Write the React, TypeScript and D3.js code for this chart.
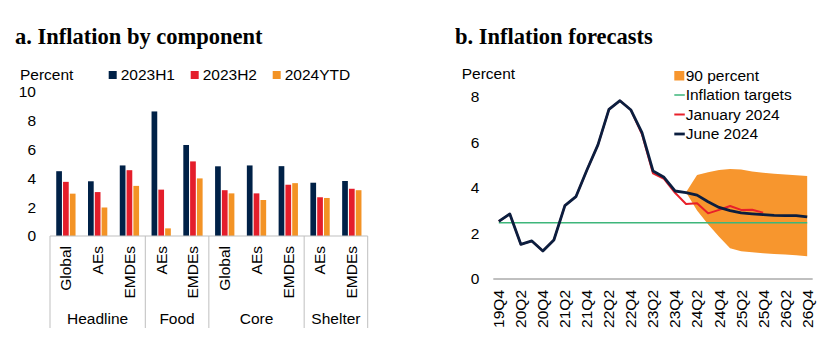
import React from "react";
import * as d3 from "d3";

const categories = ["Global", "AEs", "EMDEs", "AEs", "EMDEs", "Global", "AEs", "EMDEs", "AEs", "EMDEs"];
const groups = [
  { name: "Headline", count: 3 },
  { name: "Food", count: 2 },
  { name: "Core", count: 3 },
  { name: "Shelter", count: 2 },
];
const seriesNames = ["2023H1", "2023H2", "2024YTD"];
const h1 = [4.5, 3.8, 4.9, 8.65, 6.32, 4.84, 4.9, 4.85, 3.7, 3.82];
const h2 = [3.76, 3.05, 4.57, 3.22, 5.18, 3.18, 2.96, 3.56, 2.69, 3.28];
const ytd = [2.94, 1.98, 3.48, 0.53, 4.0, 2.96, 2.5, 3.67, 2.64, 3.18];
const barColors = ["#002147", "#E41E2B", "#F39325"];
const leftTicks = [0, 2, 4, 6, 8, 10];

const quarters = [
  "19Q4", "20Q1", "20Q2", "20Q3", "20Q4", "21Q1", "21Q2", "21Q3", "21Q4",
  "22Q1", "22Q2", "22Q3", "22Q4", "23Q1", "23Q2", "23Q3", "23Q4",
  "24Q1", "24Q2", "24Q3", "24Q4", "25Q1", "25Q2", "25Q3", "25Q4",
  "26Q1", "26Q2", "26Q3", "26Q4",
];
const june2024 = [2.53, 2.85, 1.52, 1.67, 1.23, 1.71, 3.22, 3.61, 4.78, 5.88, 7.44, 7.82, 7.41, 6.42, 4.74, 4.46, 3.86, 3.79, 3.68, 3.39, 3.14, 3.0, 2.9, 2.86, 2.82, 2.79, 2.78, 2.78, 2.72];
const january2024 = [2.53, 2.85, 1.52, 1.67, 1.23, 1.71, 3.22, 3.61, 4.78, 5.88, 7.44, 7.82, 7.41, 6.35, 4.63, 4.39, 3.78, 3.29, 3.32, 2.88, 3.03, 3.2, 3.03, 3.04, 2.91];
const bandStart = 17;
const bandUpper = [3.8, 4.56, 4.68, 4.78, 4.82, 4.8, 4.72, 4.66, 4.62, 4.58, 4.55, 4.52];
const bandLower = [3.8, 3.0, 2.4, 1.85, 1.35, 1.22, 1.17, 1.13, 1.1, 1.07, 1.04, 1.0];
const inflationTarget = 2.47;
const rightTicks = [0, 2, 4, 6, 8];
const legendRight = ["90 percent", "Inflation targets", "January 2024", "June 2024"];

const NAVY = "#0B1E3F";
const RED = "#E8202A";
const ORANGE = "#F7962E";
const GREEN = "#3DB67A";
const FONT = "Liberation Sans, Arial, sans-serif";
const FS = 15.5;

export default function App() {
  // Left panel scales
  const xL = d3.scaleBand<number>().domain(d3.range(categories.length)).range([50, 367.7]);
  const yL = d3.scaleLinear().domain([0, 10]).range([236, 92]);
  const barW = 5.7;
  const barStep = 6.8;
  const seriesVals = [h1, h2, ytd];

  const boundaries: number[] = [];
  let acc = 0;
  boundaries.push(xL(0)!);
  groups.forEach((g) => {
    acc += g.count;
    boundaries.push(acc < categories.length ? xL(acc)! : xL.range()[1]);
  });

  // Right panel scales
  const xR = d3.scaleBand<string>().domain(quarters).range([493.3, 812.7]);
  const cx = (i: number) => xR(quarters[i])! + xR.bandwidth() / 2;
  const yR = d3.scaleLinear().domain([0, 8]).range([279, 96.6]);

  const lineGen = d3
    .line<number>()
    .x((_, i) => cx(i))
    .y((d) => yR(d));
  const areaGen = d3
    .area<number>()
    .x((_, i) => cx(i + bandStart))
    .y0((_, i) => yR(bandLower[i]))
    .y1((d) => yR(d));

  return (
    <svg
      width={840}
      height={350}
      style={{ position: "absolute", left: 0, top: 0, background: "#fff" }}
      fontFamily={FONT}
    >
      <rect x={0} y={0} width={840} height={350} fill="#fff" />
      {/* Titles */}
      <text x={15} y={44} fontFamily="Liberation Serif, Times New Roman, serif" fontWeight="bold" fontSize={22.5} fill="#000">
        a. Inflation by component
      </text>
      <text x={455} y={44} fontFamily="Liberation Serif, Times New Roman, serif" fontWeight="bold" fontSize={22.5} fill="#000">
        b. Inflation forecasts
      </text>

      {/* Left panel */}
      <text x={20} y={74.5} dy="0.35em" fontSize={FS} fill="#000">Percent</text>
      {seriesNames.map((s, k) => {
        const lx = [108.7, 190.7, 272.7][k];
        return (
          <g key={s}>
            <rect x={lx} y={71} width={8} height={8} fill={barColors[k]} />
            <text x={lx + 12} y={74.5} dy="0.35em" fontSize={FS} fill="#000">{s}</text>
          </g>
        );
      })}
      {leftTicks.map((t) => (
        <text key={t} x={36} y={yL(t)} dy="0.35em" textAnchor="end" fontSize={FS} fill="#000">
          {t}
        </text>
      ))}
      {categories.map((c, i) => {
        const center = xL(i)! + xL.bandwidth() / 2;
        return (
          <g key={i}>
            {seriesVals.map((vals, k) => (
              <rect
                key={k}
                x={center + (k - 1) * barStep - barW / 2}
                y={yL(vals[i])}
                width={barW}
                height={yL(0) - yL(vals[i])}
                fill={barColors[k]}
              />
            ))}
            <text
              transform={`translate(${center},246) rotate(-90)`}
              dy="0.35em"
              textAnchor="end"
              fontSize={FS}
              fill="#000"
            >
              {c}
            </text>
          </g>
        );
      })}
      <line x1={xL.range()[0]} x2={xL.range()[1]} y1={yL(0)} y2={yL(0)} stroke="#BFBFBF" strokeWidth={1} />
      {boundaries.map((b, i) => (
        <line key={i} x1={b} x2={b} y1={yL(0)} y2={328} stroke="#BFBFBF" strokeWidth={1} />
      ))}
      {groups.map((g, i) => (
        <text
          key={g.name}
          x={(boundaries[i] + boundaries[i + 1]) / 2}
          y={319}
          dy="0.35em"
          textAnchor="middle"
          fontSize={FS}
          fill="#000"
        >
          {g.name}
        </text>
      ))}

      {/* Right panel */}
      <text x={461.7} y={74} dy="0.35em" fontSize={FS} fill="#000">Percent</text>
      {rightTicks.map((t) => (
        <text key={t} x={479.3} y={yR(t)} dy="0.35em" textAnchor="end" fontSize={FS} fill="#000">
          {t}
        </text>
      ))}
      <path d={areaGen(bandUpper)!} fill={ORANGE} stroke="none" />
      <line
        x1={cx(0)}
        x2={cx(quarters.length - 1)}
        y1={yR(inflationTarget)}
        y2={yR(inflationTarget)}
        stroke={GREEN}
        strokeWidth={1.5}
      />
      <path d={lineGen(january2024)!} fill="none" stroke={RED} strokeWidth={2} strokeLinejoin="round" />
      <path d={lineGen(june2024)!} fill="none" stroke={NAVY} strokeWidth={2.8} strokeLinejoin="round" />
      <line x1={xR.range()[0]} x2={xR.range()[1]} y1={yR(0)} y2={yR(0)} stroke="#808080" strokeWidth={1} />
      {quarters.map((q, i) =>
        i % 2 === 0 ? (
          <text
            key={q}
            transform={`translate(${cx(i)},290) rotate(-90)`}
            dy="0.35em"
            textAnchor="end"
            fontSize={FS}
            fill="#000"
          >
            {q}
          </text>
        ) : null
      )}
      {/* Right legend */}
      <rect x={674.3} y={71} width={10} height={9.5} fill={ORANGE} />
      <text x={685.7} y={75.7} dy="0.35em" fontSize={FS} fill="#000">{legendRight[0]}</text>
      {[GREEN, RED, NAVY].map((col, k) => {
        const yy = 95 + k * 19.5;
        return (
          <g key={k}>
            <line x1={674.3} x2={684.8} y1={yy} y2={yy} stroke={col} strokeWidth={k === 0 ? 1.5 : k === 1 ? 2 : 2.8} />
            <text x={685.7} y={yy} dy="0.35em" fontSize={FS} fill="#000">{legendRight[k + 1]}</text>
          </g>
        );
      })}
    </svg>
  );
}
